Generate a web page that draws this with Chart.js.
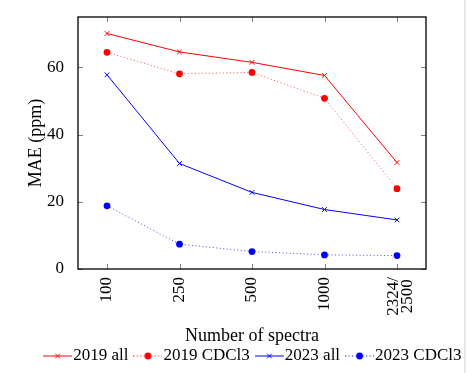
<!DOCTYPE html>
<html>
<head>
<meta charset="utf-8">
<script src="https://cdn.jsdelivr.net/npm/chart.js@4"></script>
<style>
  body { margin: 0; background: #fff; }
  #wrap { position: relative; width: 474px; height: 373px; }
  #edge { position: absolute; left: 464px; top: 0; width: 2px; height: 373px; background: #e6e6e6; }
</style>
</head>
<body>
<div id="wrap">
  <canvas id="chart"></canvas>
  <div id="edge"></div>
</div>
<script>
// MAE vs number of spectra
const spectra = ["100", "250", "500", "1000", ["2324/", "2500"]];
const yTicks = [0, 20, 40, 60];
const all2019 = [70.1, 64.6, 61.5, 57.6, 31.7];
const cdcl2019 = [64.5, 58.1, 58.5, 50.8, 23.9];
const all2023 = [57.8, 31.4, 22.8, 17.7, 14.6];
const cdcl2023 = [18.8, 7.4, 5.2, 4.2, 4.0];

const red = "#ff0000";
const blue = "#0000ff";

Chart.defaults.font.family = "'Liberation Serif', serif";
Chart.defaults.font.size = 17;
Chart.defaults.color = "#000";

const toPoints = arr => arr.map((v, i) => ({ x: i, y: v }));

// small line + marker pictures for the legend
const makeSample = (color, dotted, cross) => {
  const c = document.createElement("canvas");
  c.width = 29;
  c.height = 10;
  const g = c.getContext("2d");
  g.strokeStyle = color;
  g.fillStyle = color;
  g.lineWidth = 1;
  if (dotted) g.setLineDash([1, 2.5]);
  g.beginPath();
  g.moveTo(0, 5);
  g.lineTo(29, 5);
  g.stroke();
  g.setLineDash([]);
  if (cross) {
    g.beginPath();
    g.moveTo(12.2, 2.7); g.lineTo(16.8, 7.3);
    g.moveTo(16.8, 2.7); g.lineTo(12.2, 7.3);
    g.stroke();
  } else {
    g.beginPath();
    g.arc(14.5, 5, 3.4, 0, Math.PI * 2);
    g.fill();
  }
  return c;
};
const samples = [
  makeSample(red, false, true),
  makeSample(red, true, false),
  makeSample(blue, false, true),
  makeSample(blue, true, false)
];

// center two-line tick labels on their tick, lines centred on each other
const centerLabels = {
  id: "centerLabels",
  afterLayout(chart) {
    const sc = chart.scales.x;
    const items = sc.getLabelItems();
    const lh = 17 * 0.8;
    chart.ctx.save();
    chart.ctx.font = "17px 'Liberation Serif'";
    items.forEach(it => {
      if (!Array.isArray(it.label)) return;
      const w = Math.max(...it.label.map(t => chart.ctx.measureText(t).width));
      it.options.translation[0] -= (it.label.length - 1) * lh / 4;
      it.options.translation[1] += w / 2;
      it.options.textAlign = "center";
    });
    chart.ctx.restore();
  }
};

// box round the plot with inward ticks on all four sides
const frame = {
  id: "frame",
  afterDatasetsDraw(chart) {
    const { ctx, chartArea: a, scales } = chart;
    ctx.save();
    ctx.strokeStyle = "#808080";
    ctx.lineWidth = 1;
    ctx.beginPath();
    scales.y.ticks.forEach(t => {
      const py = Math.round(scales.y.getPixelForValue(t.value)) + 0.5;
      ctx.moveTo(a.left, py); ctx.lineTo(a.left + 5, py);
      ctx.moveTo(a.right - 5, py); ctx.lineTo(a.right, py);
    });
    scales.x.ticks.forEach(t => {
      const px = Math.round(scales.x.getPixelForValue(t.value)) + 0.5;
      ctx.moveTo(px, a.top); ctx.lineTo(px, a.top + 5);
      ctx.moveTo(px, a.bottom - 5); ctx.lineTo(px, a.bottom);
    });
    ctx.stroke();
    ctx.strokeStyle = "#000";
    ctx.lineWidth = 1.3;
    ctx.strokeRect(a.left, a.top, a.right - a.left, a.bottom - a.top);
    ctx.restore();
  }
};

const lineSet = (label, data, color) => ({
  label,
  data: toPoints(data),
  borderColor: color,
  backgroundColor: color,
  borderWidth: 1,
  pointStyle: "crossRot",
  pointRadius: 3.3,
  pointBorderWidth: 1,
  pointBorderColor: color
});
const dotSet = (label, data, color) => ({
  label,
  data: toPoints(data),
  borderColor: color === red ? "rgba(255,0,0,0.7)" : "rgba(0,0,255,0.7)",
  backgroundColor: color,
  borderWidth: 1,
  borderDash: [1, 2.5],
  pointStyle: "circle",
  pointRadius: 3.4,
  pointBorderWidth: 0,
  pointBackgroundColor: color
});

new Chart(document.getElementById("chart"), {
  type: "line",
  data: {
    datasets: [
      lineSet("2019 all", all2019, red),
      dotSet("2019 CDCl3", cdcl2019, red),
      lineSet("2023 all", all2023, blue),
      dotSet("2023 CDCl3", cdcl2023, blue)
    ]
  },
  options: {
    responsive: true,
    maintainAspectRatio: false,
    animation: false,
    layout: { padding: { top: 17, left: 0, right: 0, bottom: -1.5 } },
    plugins: {
      tooltip: { enabled: false },
      legend: {
        position: "bottom",
        align: "end",
        labels: {
          usePointStyle: true,
          pointStyleWidth: 14,
          padding: 12.5,
          color: "#000",
          generateLabels(chart) {
            const items = Chart.defaults.plugins.legend.labels.generateLabels(chart);
            items.forEach((it, i) => { it.pointStyle = samples[i]; });
            return items;
          }
        }
      }
    },
    scales: {
      x: {
        type: "linear",
        min: -0.4,
        max: 4.4,
        grid: { display: false },
        border: { display: false },
        afterBuildTicks: s => { s.ticks = spectra.map((_, i) => ({ value: i })); },
        afterFit: s => { s.height = 66; },
        ticks: {
          autoSkip: false,
          minRotation: 90,
          maxRotation: 90,
          padding: 0,
          font: { lineHeight: 0.8 },
          callback: v => spectra[v]
        },
        title: {
          display: true,
          text: "Number of spectra",
          font: { size: 18 },
          padding: { top: 0, bottom: -12 }
        }
      },
      y: {
        min: 0,
        max: 75,
        grid: { display: false },
        border: { display: false },
        afterBuildTicks: s => { s.ticks = yTicks.map(v => ({ value: v })); },
        afterFit: s => { s.width = 78; },
        ticks: { padding: 6 },
        title: {
          display: true,
          text: "MAE (ppm)",
          font: { size: 18 },
          padding: { top: 25, bottom: 0 }
        }
      },
      r: {
        type: "linear",
        position: "right",
        display: true,
        grid: { display: false },
        border: { display: false },
        ticks: { display: false },
        afterFit: s => { s.width = 48; }
      }
    }
  },
  plugins: [centerLabels, frame]
});
</script>
</body>
</html>
